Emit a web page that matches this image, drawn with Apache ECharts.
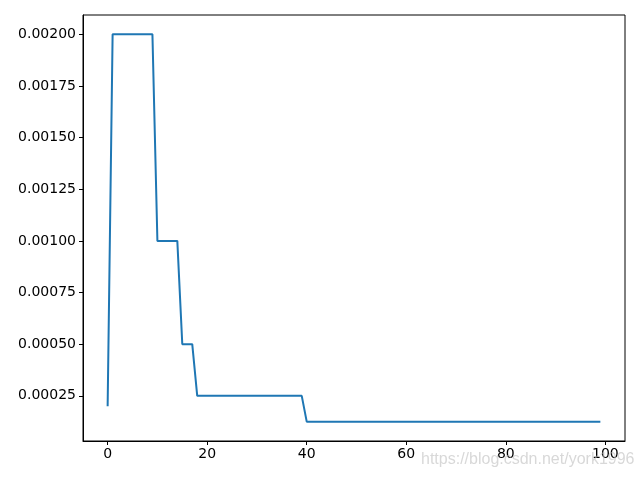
<!DOCTYPE html>
<html>
<head>
<meta charset="utf-8">
<script src="https://cdn.jsdelivr.net/npm/echarts@6/dist/echarts.min.js"></script>
<style>html,body{margin:0;padding:0;background:#fff;}#c{width:640px;height:480px;}</style>
</head>
<body>
<div id="c"></div>
<script>
var lr = [
  0.0002,
  0.002, 0.002, 0.002, 0.002, 0.002, 0.002, 0.002, 0.002, 0.002,
  0.001, 0.001, 0.001, 0.001, 0.001,
  0.0005, 0.0005, 0.0005,
  0.00025, 0.00025, 0.00025, 0.00025, 0.00025, 0.00025, 0.00025, 0.00025, 0.00025, 0.00025, 0.00025,
  0.00025, 0.00025, 0.00025, 0.00025, 0.00025, 0.00025, 0.00025, 0.00025, 0.00025, 0.00025, 0.00025,
  0.000125, 0.000125, 0.000125, 0.000125, 0.000125, 0.000125, 0.000125, 0.000125, 0.000125, 0.000125,
  0.000125, 0.000125, 0.000125, 0.000125, 0.000125, 0.000125, 0.000125, 0.000125, 0.000125, 0.000125,
  0.000125, 0.000125, 0.000125, 0.000125, 0.000125, 0.000125, 0.000125, 0.000125, 0.000125, 0.000125,
  0.000125, 0.000125, 0.000125, 0.000125, 0.000125, 0.000125, 0.000125, 0.000125, 0.000125, 0.000125,
  0.000125, 0.000125, 0.000125, 0.000125, 0.000125, 0.000125, 0.000125, 0.000125, 0.000125, 0.000125,
  0.000125, 0.000125, 0.000125, 0.000125, 0.000125, 0.000125, 0.000125, 0.000125, 0.000125, 0.000125
];
var xTicks = [0, 20, 40, 60, 80, 100];
var yTicks = [0.00025, 0.0005, 0.00075, 0.001, 0.00125, 0.0015, 0.00175, 0.002];
var watermark = 'https://blog.csdn.net/york1996';

var seriesData = lr.map(function (v, i) { return [i, v]; });
var chart = echarts.init(document.getElementById('c'), null, {renderer: 'canvas'});
var font = 'DejaVu Sans';
chart.setOption({
  animation: false,
  backgroundColor: '#fff',
  grid: {left: 83, right: 15, top: 15, bottom: 39, show: true, borderColor: '#000', borderWidth: 1, containLabel: false},
  xAxis: {
    type: 'value', min: -4.95, max: 103.95,
    axisLine: {show: true, onZero: false, lineStyle: {color: '#000', width: 1}},
    axisTick: {show: true, inside: false, length: 4, lineStyle: {color: '#000'}, customValues: xTicks},
    axisLabel: {show: true, color: '#000', fontFamily: font, fontSize: 14, margin: 6, customValues: xTicks},
    splitLine: {show: false}
  },
  yAxis: {
    type: 'value', min: 0.00003125, max: 0.00209375,
    axisLine: {show: true, onZero: false, lineStyle: {color: '#000', width: 1}},
    axisTick: {show: true, inside: false, length: 4, lineStyle: {color: '#000'}, customValues: yTicks},
    axisLabel: {show: true, color: '#000', fontFamily: font, fontSize: 14, margin: 7, customValues: yTicks,
      formatter: function (v) { return v.toFixed(5); }},
    splitLine: {show: false}
  },
  series: [{
    type: 'line', data: seriesData, showSymbol: false, symbol: 'none',
    lineStyle: {color: '#1f77b4', width: 2}, z: 2
  }],
  graphic: [{
    type: 'text', left: 421, top: 452, z: 100,
    style: {text: watermark, fill: 'rgba(190,190,190,0.6)', font: '16px "Liberation Sans"'}
  }]
});
</script>
</body>
</html>
